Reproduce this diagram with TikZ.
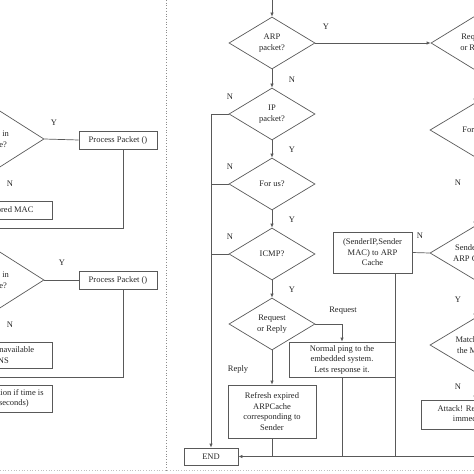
\documentclass[tikz,border=0pt]{standalone}
\usepackage{fontspec}
\setmainfont{Liberation Serif}
\usetikzlibrary{shapes.geometric, arrows.meta, calc}

\begin{document}
\begin{tikzpicture}[x=1pt, y=-1pt, black!65, line width=0.7pt,
    dc/.style={diamond, draw, aspect=1.65, inner sep=0pt, minimum width=86pt, minimum height=52pt, align=center},
    bx/.style={rectangle, draw, align=center, inner sep=1pt},
    every node/.style={font=\fontsize{8.5}{10.5}\selectfont, text=black!85},
    >={Latex[length=4pt,width=3.5pt]}]
            \useasboundingbox (0,0) rectangle (474,474);
            \clip (0,0) rectangle (474,474);

            % page frame
            \draw[dotted, black!45] (166,0) -- (166,470);
            \draw[dotted, black!25] (0,470) -- (474,470);

            % left part
            \draw (-11,139) node[dc, minimum width=110pt, minimum height=70pt](chk1){SenderIP in\\the cache?};
            \draw (118,140) node[bx, minimum width=78pt, minimum height=18pt](pp1){Process Packet ()};
            \draw (-11,210) node[bx, minimum width=126pt, minimum height=18pt](upd){Replace with stored MAC};
            \draw (-11,280) node[dc, minimum width=110pt, minimum height=70pt](chk2){SenderIP in\\the cache?};
            \draw (118,280) node[bx, minimum width=78pt, minimum height=18pt](pp2){Process Packet ()};
            \draw (-11,355) node[bx, minimum width=126pt, minimum height=26pt](mark){Mark MAC as unavailable\\for 5 MINS};
            \draw (-11,398.5) node[bx, minimum width=126pt, minimum height=27pt](del){Delete the information if time is\\(more than 30 seconds)};
            \coordinate (back1) at (-30,228);
            \coordinate (back2) at (-30,377);

            \draw (chk1.east) -- (pp1.west);
            \draw[->] (chk1) -- (upd);
            \draw ([xshift=5pt]pp1.south) |- (back1);
            \draw (chk2.east) -- (pp2.west);
            \draw[->] (chk2) -- (mark);
            \draw ([xshift=5pt]pp2.south) |- (back2);
            \draw (54,123) node{Y};
            \draw (10,184) node{N};
            \draw (62,263) node{Y};
            \draw (10,325) node{N};

            % middle column
            \coordinate (in) at (272,0);
            \draw (272,43) node[dc](arp){ARP\\packet?};
            \draw (272,114) node[dc](ip){IP\\packet?};
            \draw (272,184) node[dc](us){For us?};
            \draw (272,254) node[dc](icmp){ICMP?};
            \draw (272,324) node[dc](req){Request\\or Reply};
            \draw (342,359.5) node[bx, minimum width=106pt, minimum height=35pt](ping){Normal ping to the\\embedded system.\\Lets response it.};
            \draw (272,411.5) node[bx, minimum width=88pt, minimum height=53pt](fresh){Refresh expired\\ARPCache\\corresponding to\\Sender};
            \draw (211,456.5) node[bx, minimum width=54pt, minimum height=17pt](end){END};

            % right column
            \draw (475,43) node[dc, minimum width=88pt, minimum height=54pt](req2){Request\\or Reply};
            \draw (475,130) node[dc, minimum width=90pt, minimum height=54pt](us2){For us?};
            \draw (475,253) node[dc, minimum width=90pt, minimum height=54pt](snd){SenderIP in\\ARP Cache?};
            \draw (475,345) node[dc, minimum width=90pt, minimum height=54pt](mtc){Match with\\the MAC?};
            \draw (475,414.5) node[bx, minimum width=108pt, minimum height=29pt](atk){Attack! Re-send ARP\\immediately.};
            \draw (372.5,252.5) node[bx, minimum width=79pt, minimum height=41pt](sbox){(SenderIP,Sender\\MAC) to ARP\\Cache};
            \coordinate (bend) at (490,456.5);

            \begin{scope}[->]
                \draw (in) -- (arp);
                \draw (arp) -- (ip);
                \draw (arp) -- (req2);
                \draw (ip) -- (us);
                \draw (us) -- (icmp);
                \draw (icmp) -- (req);
                \draw (req.east) -| (ping.north);
                \draw (req) -- (fresh);
                \draw (ip.west) -| (end.north);
                \draw (bend) -- (end.east);
                \draw (req2) -- (us2);
                \draw (us2) -- (snd);
                \draw (snd) -- (mtc);
                \draw (mtc) -- (atk);
            \end{scope}

            \draw (us.west) -- (us.west -| end);
            \draw (icmp.west) -- (icmp.west -| end);
            \draw (ping.south) -- (ping.south |- end);
            \draw (fresh.south) -- (fresh.south |- end);
            \draw (snd.west) -- (sbox.east);
            \draw ([xshift=22.5pt]sbox.south) -- ([xshift=22.5pt]sbox.south |- end);
            \draw (atk.south) -- (atk.south |- end);

            % branch labels
            \draw (326,27) node{Y};
            \draw (292,80) node{N};
            \draw (230,97) node{N};
            \draw (292,150) node{Y};
            \draw (230,167) node{N};
            \draw (292,220) node{Y};
            \draw (230,237) node{N};
            \draw (292,290) node{Y};
            \draw (343,311) node{Request};
            \draw (238,369) node{Reply};
            \draw (458,183) node{N};
            \draw (420,236) node{N};
            \draw (458,300) node{Y};
            \draw (458,387) node{N};
        \end{tikzpicture}
\end{document}
